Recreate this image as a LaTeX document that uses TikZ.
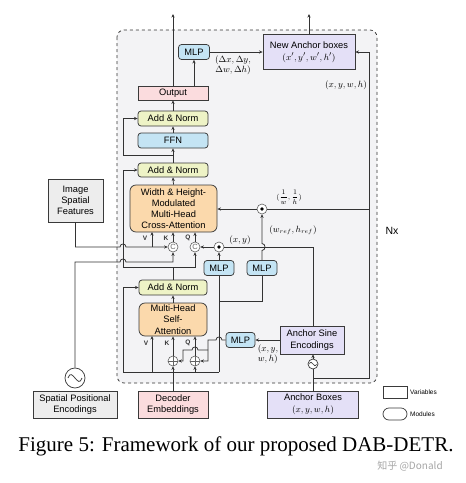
\documentclass[tikz,border=0pt]{standalone}
\usepackage{fontspec}
\setmainfont{Liberation Sans}
\newfontfamily\capfont{Liberation Serif}
\newfontfamily\cjkfont{Noto Sans CJK SC}
\usetikzlibrary{arrows.meta}
\definecolor{lc}{HTML}{333333}
\definecolor{bc}{HTML}{3A3A3A}
\definecolor{cblue}{HTML}{C4E4F4}
\definecolor{cyel}{HTML}{EEF3C6}
\definecolor{corg}{HTML}{FBD9AC}
\definecolor{cpink}{HTML}{FBDCDE}
\definecolor{clav}{HTML}{E4E0F7}
\definecolor{cgray}{HTML}{EDEDED}
\definecolor{cbg}{HTML}{F3F3F5}
\begin{document}
\begin{tikzpicture}[x=1pt,y=-1pt,
  conn/.style={draw=lc, line width=0.75pt},
  arr/.style={conn, -{Stealth[length=3.6pt,width=3.2pt]}},
  boxfont/.style={font=\fontsize{9.3}{11.2}\selectfont},
  modbox/.style={draw=bc, rounded corners=3pt, line width=0.75pt, inner sep=0pt, align=center, boxfont},
  varbox/.style={draw=bc, line width=0.75pt, inner sep=0pt, align=center, boxfont},
  opc/.style={circle, draw=bc!80, fill=white, line width=0.6pt, minimum size=10pt, inner sep=0pt},
  mathlbl/.style={font=\fontsize{9}{10}\selectfont, inner sep=0pt, align=center},
  qkv/.style={font=\fontsize{6.5}{7}\selectfont\bfseries, text=lc, inner sep=0pt}
]
\useasboundingbox (0,0) rectangle (466,483);
\fill[white] (0,0) rectangle (466,483);
% background dashed frame
\draw[dashed, draw=black!80, line width=0.75pt, fill=cbg, rounded corners=7pt] (117,30) rectangle (377,383);

% top modules
\node[modbox, fill=cblue, minimum width=31pt, minimum height=15pt] (mlpTop) at (194,52) {MLP};
\node[varbox, fill=clav, minimum width=92pt, minimum height=35pt] (newA) at (309,52) {New Anchor boxes\\[1pt]$(x',y',w',h')$};
\node[varbox, fill=cpink, minimum width=70pt, minimum height=14pt] (output) at (173,93) {Output};
\node[modbox, fill=cyel, minimum width=70pt, minimum height=15pt] (an1) at (173,118.5) {Add \& Norm};
\node[modbox, fill=cblue, minimum width=70pt, minimum height=15pt] (ffn) at (173,140.5) {FFN};
\node[modbox, fill=cyel, minimum width=70pt, minimum height=14pt] (an2) at (173,170) {Add \& Norm};
\node[modbox, fill=corg, rounded corners=6pt, minimum width=87pt, minimum height=47pt] (cross) at (173.5,208.5) {Width \& Height-\\Modulated\\Multi-Head\\Cross-Attention};
\node[modbox, fill=cyel, minimum width=68pt, minimum height=15pt] (anSelf) at (173,287.5) {Add \& Norm};
\node[modbox, fill=corg, rounded corners=6pt, minimum width=68pt, minimum height=33pt] (selfA) at (173,319.5) {Multi-Head\\Self-\\Attention};
\node[modbox, fill=cblue, minimum width=30pt, minimum height=15pt] (mlp1) at (219,268) {MLP};
\node[modbox, fill=cblue, minimum width=30pt, minimum height=15pt] (mlp2) at (262,268) {MLP};
\node[modbox, fill=cblue, minimum width=29pt, minimum height=15pt] (mlpS) at (240.5,340) {MLP};
\node[varbox, fill=clav, minimum width=64pt, minimum height=28pt] (sine) at (312,340) {Anchor Sine\\Encodings};

% outside boxes
\node[varbox, fill=cgray, minimum width=55pt, minimum height=43pt] (imgF) at (75.5,200.5) {Image\\Spatial\\Features};
\node[varbox, fill=cgray, minimum width=84pt, minimum height=27pt] (spe) at (75,404.5) {Spatial Positional\\Encodings};
\node[varbox, fill=cpink, minimum width=70pt, minimum height=27pt] (dec) at (173,404.5) {Decoder\\Embeddings};
\node[varbox, fill=clav, minimum width=91pt, minimum height=27pt] (anchor) at (313,404.5) {Anchor Boxes\\[1pt]$(x,y,w,h)$};

% operator circles
\node[opc] (cK) at (173,247) {\fontsize{7.5}{8}\selectfont\color{black!60}C};
\node[opc] (cQ) at (195,247) {\fontsize{7.5}{8}\selectfont\color{black!60}C};
\node[opc] (dot1) at (219,247) {};
\fill[black] (dot1) circle (1.9pt);
\node[opc] (dot2) at (262,209) {};
\fill[black] (dot2) circle (1.9pt);
\node[opc] (pK) at (173,361) {};
\draw[bc!80, line width=0.6pt] (pK.north) -- (pK.south) (pK.west) -- (pK.east);
\node[opc] (pQ) at (195,361) {};
\draw[bc!80, line width=0.6pt] (pQ.north) -- (pQ.south) (pQ.west) -- (pQ.east);
\node[circle, draw=bc, fill=white, line width=0.75pt, minimum size=20pt, inner sep=0pt] (sc1) at (75,378) {};
\draw[bc, line width=0.75pt] (68,378) .. controls (72,366) and (78,390) .. (82,378);
\node[circle, draw=bc, fill=white, line width=0.7pt, minimum size=10pt, inner sep=0pt] (sc2) at (313,364) {};
\draw[bc, line width=0.6pt] (309.5,364) .. controls (311.5,358) and (314.5,370) .. (316.5,364);

% coordinates
\coordinate (topL) at (173,14);
\coordinate (topR) at (309,14);
\coordinate (jA) at (313,378);
\coordinate (vS) at (152,336);

% top flow
\draw[arr] (output.north) -- (topL);
\draw[arr] (newA.north) -- (topR);
\draw[arr] (output.north -| mlpTop) -- (mlpTop.south);
\draw[arr] (mlpTop.east) -- (newA.west);
\draw[arr] (an1.north) -- (output.south);
\draw[arr] (ffn.north) -- (an1.south);
\draw[arr] (an2.north) -- (ffn.south);
\draw[arr] (cross.north) -- (an2.south);
\draw[arr] (173,155) -- (123,155) -- (123,118.5) -- (an1.west);

% cross-attention inputs
\draw[arr] (imgF.south) -- (75.5,247) -- (120,247) .. controls (120,243) and (126,243) .. (126,247) -- (cK.west);
\draw[arr] (152,247) -- (152,232);
\draw[arr] (sc1.north) -- (75,262) -- (120,262) .. controls (120,258) and (126,258) .. (126,262) -- (173,262) -- (cK.south);
\draw[arr] (cK.north) -- (cK.north |- cross.south);
\draw[arr] (cQ.north) -- (cQ.north |- cross.south);
\draw[conn] (anSelf.north) -- (173,267);
\draw[arr] (123,267) -- (195,267) -- (cQ.south);
\draw[arr] (123,267) -- (123,170) -- (an2.west);
\draw[arr] (dot1.west) -- (cQ.east);
\draw[arr] (mlp1.north) -- (dot1.south);
\draw[conn] (dot1.east) -- (313,247) -- (313,326);
\draw[arr] (mlp2.north) -- (262,250.5) .. controls (266,250.5) and (266,243.5) .. (262,243.5) -- (dot2.south);
\draw[arr] (dot2.west) -- (cross.east |- dot2);
\draw[conn] (369,209) -- (dot2.east);
\draw[arr] (jA) -- (369,378) -- (369,52) -- (newA.east);

% MLP inputs
\draw[conn] (mlp1.south) -- (219,372);
\draw[conn] (219,301) -- (262,301) -- (mlp2.south);

% self-attention
\draw[arr] (selfA.north) -- (anSelf.south);
\draw[arr] (sine.west) -- (mlpS.east);
\draw[arr] (mlpS.west) -- (222,340) .. controls (222,336) and (216,336) .. (216,340) -- (208,340) -- (208,361) -- (pQ.east);
\draw[arr] (208,350) -- (198,350) .. controls (198,346) and (192,346) .. (192,350) -- (183,350) -- (183,361) -- (pK.east);
\draw[arr] (dec.north) -- (pK.south);
\draw[conn] (123,372) -- (219,372);
\draw[arr] (123,372) -- (123,287.5) -- (anSelf.west);
\draw[arr] (152,372) -- (vS);
\draw[arr] (195,372) -- (pQ.south);
\draw[arr] (pK.north) -- (pK.north |- selfA.south);
\draw[arr] (pQ.north) -- (pQ.north |- selfA.south);
\draw[conn] (anchor.north) -- (sc2.south);
\draw[arr] (sc2.north) -- (sc2.north |- sine.south);

% labels
\node[qkv] at (145,238) {V};
\node[qkv] at (166,238) {K};
\node[qkv] at (188,238) {Q};
\node[qkv] at (146,343) {V};
\node[qkv] at (167,343) {K};
\node[qkv] at (188,343) {Q};
\node[mathlbl] (l1) at (233,65) {$(\Delta x,\Delta y,$\\$\Delta w,\Delta h)$};
\node[mathlbl] (l2) at (346,85) {$(x,y,w,h)$};
\node[font=\fontsize{7.5}{9}\selectfont, inner sep=0pt] (l3) at (289,197) {$\displaystyle(\frac{1}{w},\frac{1}{h})$};
\node[mathlbl] (l4) at (293,230) {$(w_{ref},h_{ref})$};
\node[mathlbl] (l5) at (240,240) {$(x,y)$};
\node[mathlbl, align=left] (l6) at (268,354) {$(x,y,$\\$w,h)$};
\node[font=\fontsize{10.5}{12}\selectfont, inner sep=0pt] (nx) at (392,231) {Nx};

% legend
\node[draw=bc, line width=0.7pt, minimum width=24pt, minimum height=12pt, inner sep=0pt] (lv) at (395,392) {};
\node[anchor=west, font=\fontsize{6.5}{7}\selectfont, inner sep=0pt] at (410,392) {Variables};
\node[draw=bc, line width=0.7pt, rounded corners=6pt, minimum width=24pt, minimum height=12pt, inner sep=0pt] (lm) at (395,414) {};
\node[anchor=west, font=\fontsize{6.5}{7}\selectfont, inner sep=0pt] at (410,414) {Modules};

% caption
\node[font=\capfont\fontsize{21}{24}\selectfont, inner sep=0pt] (cap) at (236,446) {Figure 5: Framework of our proposed DAB-DETR.};
\node[font=\cjkfont\fontsize{10}{12}\selectfont, text=black!35, inner sep=0pt] (wm) at (410,466) {知乎 @Donald};
\end{tikzpicture}
\end{document}
